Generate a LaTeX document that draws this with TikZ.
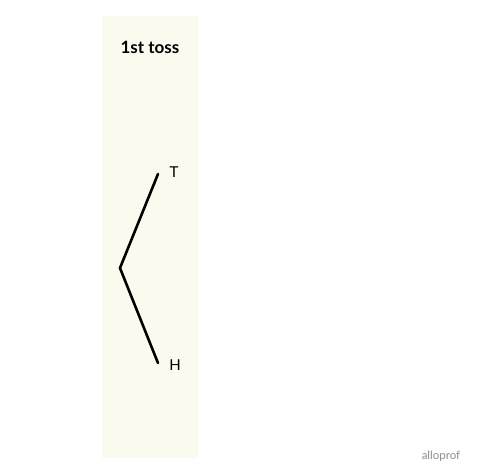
\documentclass[tikz,border=0pt]{standalone}
\usepackage{fontspec}
\setmainfont{Lato}
\definecolor{colbg}{HTML}{FAFAEE}
\definecolor{markgray}{HTML}{8C8C8C}
\tikzset{>=stealth,
    branch/.style={line width=2.6pt, black},
    outcome/.style={font=\fontsize{15}{18}\selectfont, inner sep=0pt},
    heading/.style={font=\fontsize{17}{20}\selectfont\bfseries, inner sep=0pt}}

\begin{document}
\begin{tikzpicture}[x=1pt, y=-1pt]
    \useasboundingbox (0,0) rectangle (480,474);
    \fill[colbg] (102,16) rectangle (198,458);
    \node[heading] (title) at (150,47) {1st toss};
    \coordinate (root) at (120,268);
    \coordinate (t) at (158,174);
    \coordinate (h) at (158,363);
    \draw[branch, line cap=round] (t) -- (root) -- (h);
    \node[outcome] (T) at (174,172) {T};
    \node[outcome] (H) at (175,365) {H};
    \node[font=\fontsize{11.5}{13}\selectfont, text=markgray, inner sep=0pt] (brand) at (441,456) {alloprof};
    \end{tikzpicture}
\end{document}
